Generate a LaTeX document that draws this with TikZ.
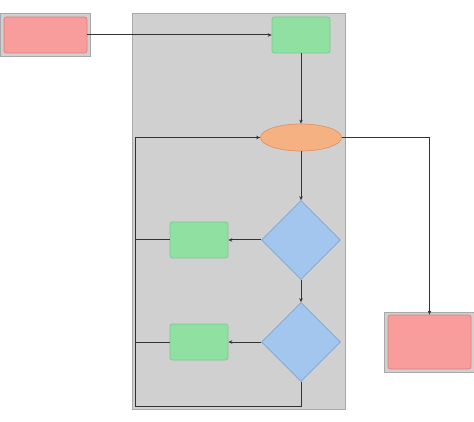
\documentclass[tikz,border=0pt]{standalone}
\usetikzlibrary{shapes.geometric,arrows.meta}
\definecolor{pinkfill}{HTML}{F89C9C}
\definecolor{pinkdraw}{HTML}{D88080}
\definecolor{greenfill}{HTML}{90E0A2}
\definecolor{greendraw}{HTML}{7CC890}
\definecolor{orangefill}{HTML}{F6B183}
\definecolor{orangedraw}{HTML}{DC9566}
\definecolor{bluefill}{HTML}{A2C6EE}
\definecolor{bluedraw}{HTML}{7FA4CE}
\definecolor{groupfill}{HTML}{D0D0D0}
\definecolor{groupdraw}{HTML}{A9A9A9}
\definecolor{linecol}{HTML}{333333}
\begin{document}
\begin{tikzpicture}[x=1pt,y=-1pt,
  group/.style={draw=groupdraw,fill=groupfill,line width=0.8pt,inner sep=0pt,outer sep=0pt},
  redbox/.style={draw=pinkdraw,fill=pinkfill,rounded corners=2.5pt,line width=0.7pt,inner sep=0pt},
  greenbox/.style={draw=greendraw,fill=greenfill,rounded corners=2.5pt,line width=0.7pt,inner sep=0pt,minimum width=58pt,minimum height=36pt},
  oval/.style={ellipse,draw=orangedraw,fill=orangefill,line width=0.7pt,inner sep=0pt,minimum width=81pt,minimum height=27pt},
  decision/.style={diamond,draw=bluedraw,fill=bluefill,line width=0.7pt,inner sep=0pt,minimum width=79pt,minimum height=79pt},
  conn/.style={draw=linecol,line width=1pt},
  arr/.style={conn,-{Stealth[length=4pt,width=3.5pt]}}]
\useasboundingbox (0,0) rectangle (474,422);
% containers
\node[group,minimum width=90pt,minimum height=43pt] (g1) at (45,34.5) {};
\node[group,minimum width=213pt,minimum height=396pt] (g2) at (238.5,211) {};
\node[group,minimum width=90pt,minimum height=60pt] (g3) at (429,342) {};
% nodes
\node[redbox,minimum width=83pt,minimum height=36pt] (start) at (45.5,35) {};
\node[greenbox] (top) at (301,35) {};
\node[oval] (merge) at (301,137.5) {};
\node[decision] (d1) at (301,240) {};
\node[decision] (d2) at (301,342) {};
\node[greenbox] (m1) at (199,240) {};
\node[greenbox] (m2) at (199,342) {};
\node[redbox,minimum width=83pt,minimum height=54pt] (end) at (429.5,342) {};
% loop coordinates
\coordinate (lx1) at (135,240);
\coordinate (lx2) at (135,342);
\coordinate (lbot) at (135,406);
\coordinate (ltop) at (135,137.5);
% connectors
\draw[arr] (start.east) -- (top.west);
\draw[arr] (top.south) -- (merge.north);
\draw[arr] (merge.east) -| (end.north);
\draw[arr] (merge.south) -- (d1.north);
\draw[arr] (d1.west) -- (m1.east);
\draw[conn] (m1.west) -- (lx1);
\draw[arr] (d1.south) -- (d2.north);
\draw[arr] (d2.west) -- (m2.east);
\draw[conn] (m2.west) -- (lx2);
\draw[arr] (d2.south) |- (lbot) -- (ltop) -- (merge.west);
\end{tikzpicture}
\end{document}
